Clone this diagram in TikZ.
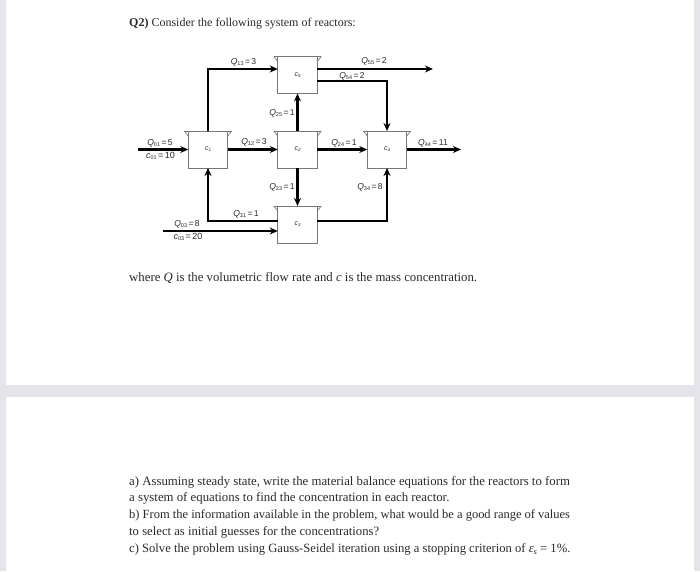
\documentclass[tikz,border=0pt]{standalone}
\usepackage{fontspec}
\setmainfont{Liberation Serif}
\newfontfamily\labelfont{Liberation Sans}
\usepackage{amsmath}
\usetikzlibrary{arrows.meta,calc}
\definecolor{panelgrey}{HTML}{E4E4EA}
\definecolor{inkgrey}{HTML}{2A2A2A}
\definecolor{vesselgrey}{HTML}{777777}
\tikzset{
  x=1pt,y=-1pt,
  reactor/.style={draw=vesselgrey,line width=0.7pt,fill=white,minimum width=39.5pt,minimum height=37pt,inner sep=0pt,outer sep=0pt,font=\labelfont\fontsize{7}{7}\selectfont\itshape,text=inkgrey},
  rim/.style={draw=vesselgrey,line width=0.7pt},
  flow/.style={line width=2.3pt,black,-{Stealth[length=8pt,width=7pt]}},
  lab/.style={font=\labelfont\fontsize{8.6}{9}\selectfont,text=inkgrey,inner sep=0pt},
  conc/.style={font=\labelfont\fontsize{9}{10}\selectfont,text=inkgrey,inner sep=0pt},
  para/.style={font=\fontsize{12.8}{14}\selectfont,text=inkgrey,inner sep=0pt,anchor=base west},
  card/.style={fill=white,draw=none}
}
\newcommand{\Ql}[2]{\textit{Q}\raisebox{-1.2pt}{\fontsize{5.5}{6}\selectfont #1}\,=\,#2}
\newcommand{\Cl}[2]{\textit{c}\raisebox{-1.2pt}{\fontsize{5.5}{6}\selectfont #1}\,=\,#2}
\newcommand{\reactorat}[4]{%
  \node[reactor] (#1) at (#2,#3) {#4};
  \draw[rim] ($(#1.north west)+(-4,0)$) -- ($(#1.north west)+(0,5)$);
  \draw[rim] ($(#1.north east)+(4,0)$) -- ($(#1.north east)+(0,5)$);
  \draw[rim] ($(#1.north west)+(-4,0)$) -- ($(#1.north east)+(4,0)$);
}
\begin{document}
\begin{tikzpicture}
\useasboundingbox (0,0) rectangle (700,571);
\fill[panelgrey] (0,0) rectangle (700,571);
\fill[card] (6,0) rectangle (694,385);
\fill[card] (6,397) rectangle (694,571);

\node[para,font=\fontsize{12.0}{14}\selectfont] (title) at (129,26) {\textbf{Q2)} Consider the following system of reactors:};

\reactorat{c5}{297.5}{75}{c\raisebox{-0.8pt}{\fontsize{4.5}{5}\selectfont 5}}
\reactorat{c1}{208}{149.5}{c\raisebox{-0.8pt}{\fontsize{4.5}{5}\selectfont 1}}
\reactorat{c2}{297.5}{149.5}{c\raisebox{-0.8pt}{\fontsize{4.5}{5}\selectfont 2}}
\reactorat{c4}{387}{149.5}{c\raisebox{-0.8pt}{\fontsize{4.5}{5}\selectfont 4}}
\reactorat{c3}{297.5}{224.5}{c\raisebox{-0.8pt}{\fontsize{4.5}{5}\selectfont 3}}

\coordinate (in01) at (138,149.5);
\coordinate (in03) at (163,231);
\coordinate (out55) at (433,69);
\coordinate (out44) at (461,149.5);
\coordinate (c5a) at ($(c5.west)+(0,-6)$);
\coordinate (c5b) at ($(c5.east)+(0,-6)$);
\coordinate (c5c) at ($(c5.east)+(0,6)$);
\coordinate (c3a) at ($(c3.west)+(0,-3.5)$);
\coordinate (c3b) at ($(c3.west)+(0,6.5)$);
\coordinate (c3c) at ($(c3.east)+(0,-3.5)$);

\draw[flow] (in01) -- (c1.west);
\draw[flow] (c1.east) -- (c2.west);
\draw[flow] (c2.east) -- (c4.west);
\draw[flow] (c4.east) -- (out44);
\draw[flow] (c1.north) |- (c5a);
\draw[flow] (c5b) -- (out55);
\draw[flow] (c5c) -| (c4.north);
\draw[flow] (c2.north) -- (c5.south);
\draw[flow] (c2.south) -- (c3.north);
\draw[flow] (c3a) -| (c1.south);
\draw[flow] (in03) -- (c3b);
\draw[flow] (c3c) -| (c4.south);

\node[lab] (q13) at (243.5,62) {\Ql{13}{3}};
\node[lab] (q55) at (374,61.5) {\Ql{55}{2}};
\node[lab] (q54) at (352,76) {\Ql{54}{2}};
\node[lab] (q25) at (282,113) {\Ql{25}{1}};
\node[lab] (q01) at (160,143) {\Ql{01}{5}};
\node[conc] (c01) at (160.5,155.5) {\Cl{01}{10}};
\node[lab] (q12) at (254,142.5) {\Ql{12}{3}};
\node[lab] (q24) at (344,143) {\Ql{24}{1}};
\node[lab] (q44) at (433,143) {\Ql{44}{11}};
\node[lab] (q23) at (282,187) {\Ql{23}{1}};
\node[lab] (q34) at (370,187) {\Ql{34}{8}};
\node[lab] (q31) at (246,214) {\Ql{31}{1}};
\node[lab] (q03) at (187,224) {\Ql{03}{8}};
\node[conc] (c03) at (188,237) {\Cl{03}{20}};

\node[para] (where) at (129,281) {where \textit{Q} is the volumetric flow rate and \textit{c} is the mass concentration.};
\node[para] (a1) at (129,485) {a) Assuming steady state, write the material balance equations for the reactors to form};
\node[para] (a2) at (129,501.5) {a system of equations to find the concentration in each reactor.};
\node[para,font=\fontsize{12.48}{14}\selectfont] (b1) at (129,518.5) {b) From the information available in the problem, what would be a good range of values};
\node[para,font=\fontsize{12.7}{14}\selectfont] (b2) at (129,535) {to select as initial guesses for the concentrations?};
\node[para,font=\fontsize{12.62}{14}\selectfont] (c1t) at (129,552.5) {c) Solve the problem using Gauss-Seidel iteration using a stopping criterion of \textit{ε}\raisebox{-1.5pt}{\fontsize{8.5}{9}\selectfont\textit{s}} = 1\%.};
\end{tikzpicture}
\end{document}
